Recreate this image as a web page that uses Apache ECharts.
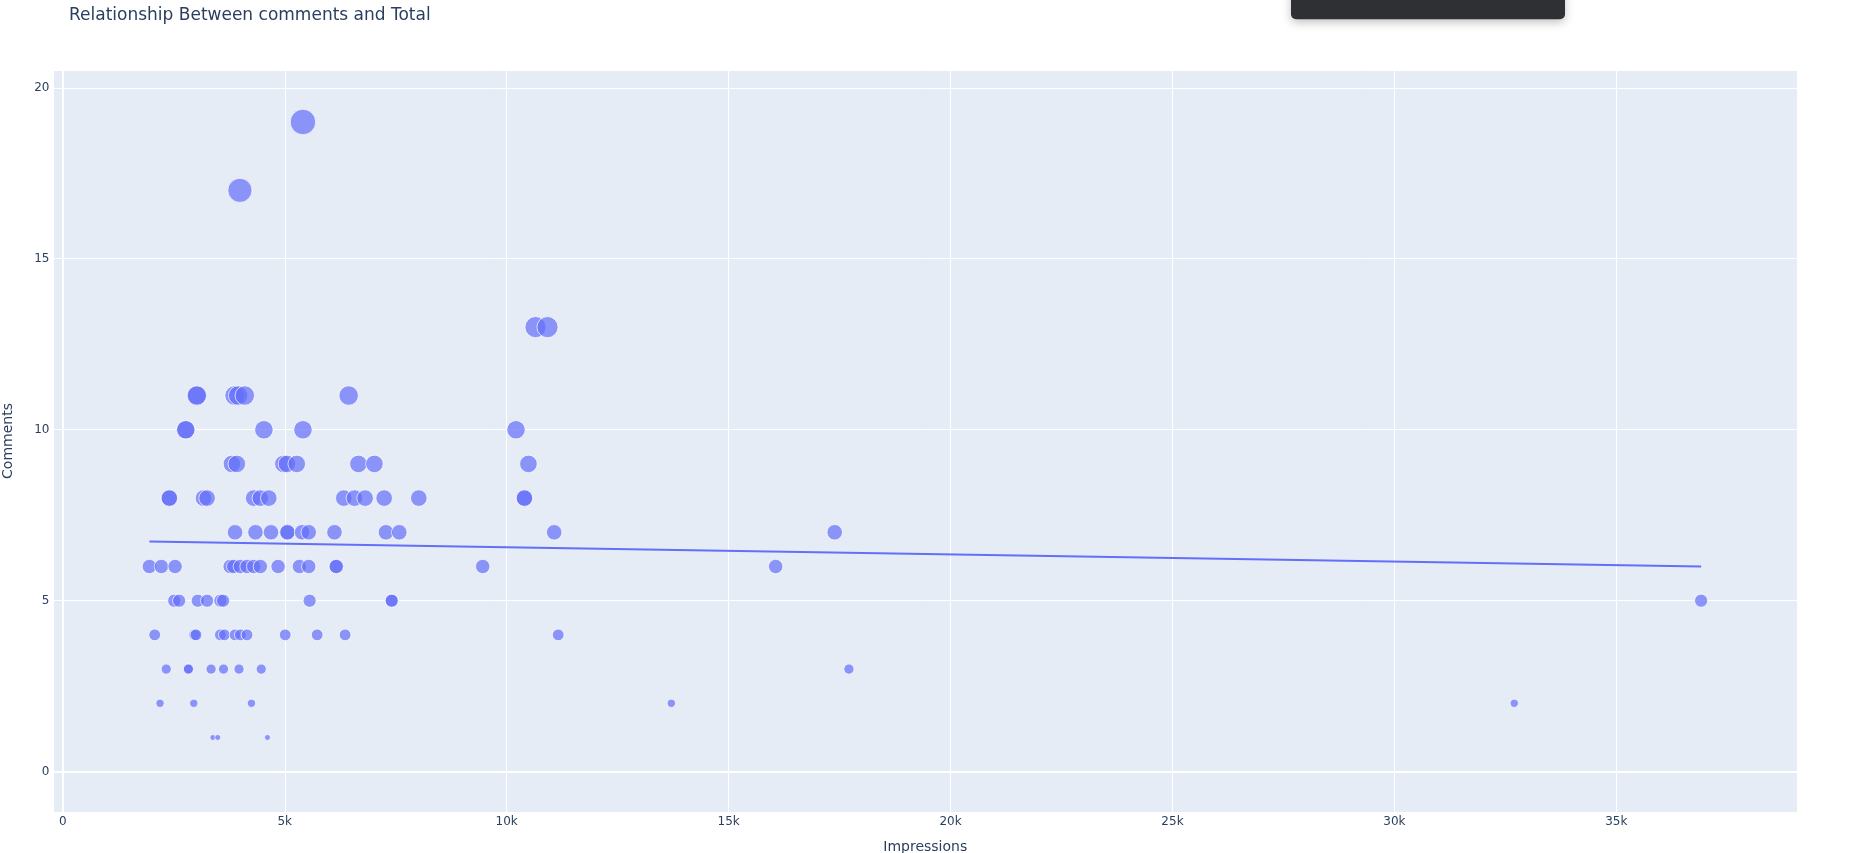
<!DOCTYPE html>
<html>
<head>
<meta charset="utf-8">
<script src="https://cdn.jsdelivr.net/npm/echarts@6/dist/echarts.min.js"></script>
<style>
html,body{margin:0;padding:0;background:#fff;}
#chart{width:1853px;height:853px;}
</style>
</head>
<body>
<div id="chart"></div>
<script>
// Impressions per comment count
const c19 = [5410];
const c17 = [3990];
const c13 = [10650, 10920];
const c11 = [3020, 3020, 3870, 3950, 4100, 6440];
const c10 = [2770, 2770, 4530, 5410, 10210];
const c9 = [3810, 3920, 4970, 5050, 5270, 6660, 7020, 10490];
const c8 = [2400, 2400, 3170, 3250, 4300, 4450, 4640, 6330, 6570, 6810, 7240, 8020, 10400, 10400];
const c7 = [3880, 4340, 4690, 5060, 5060, 5390, 5540, 6120, 7280, 7580, 11070, 17390];
const c6 = [1950, 2220, 2530, 3770, 3850, 4000, 4150, 4300, 4450, 4850, 5330, 5540, 6160, 6160, 9460, 16060];
const c5 = [2510, 2620, 3040, 3250, 3550, 3610, 5560, 7410, 7410, 36910];
const c4 = [2070, 2970, 3000, 3550, 3640, 3880, 4000, 4150, 5010, 5730, 6360, 11160];
const c3 = [2330, 2830, 2830, 3340, 3620, 3970, 4470, 17710];
const c2 = [2190, 2950, 4250, 13710, 32700];
const c1 = [3380, 3490, 4610];

const commentGroups = [
  [19, c19], [17, c17], [13, c13], [11, c11], [10, c10], [9, c9], [8, c8],
  [7, c7], [6, c6], [5, c5], [4, c4], [3, c3], [2, c2], [1, c1]
];

// OLS trendline endpoints
const trendX = [1950, 36910];
const trendY = [6.73, 6.0];

const xTickValues = [0, 5000, 10000, 15000, 20000, 25000, 30000, 35000];
const yTickValues = [0, 5, 10, 15, 20];

const points = [];
commentGroups.forEach(([c, xs]) => xs.forEach(x => points.push([x, c])));
const maxComments = 19;

const textColor = '#2a3f5f';
const font = '"DejaVu Sans", Verdana, sans-serif';

const chart = echarts.init(document.getElementById('chart'), null, {renderer: 'canvas'});
chart.setOption({
  backgroundColor: '#fff',
  animation: false,
  title: {
    text: 'Relationship Between comments and Total',
    left: 69, top: 7, padding: 0,
    textStyle: {fontFamily: font, fontSize: 17, fontWeight: 'normal', color: textColor}
  },
  grid: {
    left: 53.5, right: 56, top: 70, bottom: 41,
    containLabel: false, outerBoundsMode: 'none',
    show: true, backgroundColor: '#E5ECF6', borderWidth: 0
  },
  xAxis: {
    type: 'value', min: -210, max: 39070, splitNumber: 8,
    name: 'Impressions', nameLocation: 'middle', nameGap: 28,
    nameTextStyle: {fontFamily: font, fontSize: 14, color: textColor},
    axisLine: {show: false}, axisTick: {show: false},
    axisLabel: {
      fontFamily: font, fontSize: 12, color: textColor, margin: 4,
      showMinLabel: true, showMaxLabel: true,
      formatter: v => xTickValues.includes(v) ? (v === 0 ? '0' : (v / 1000) + 'k') : ''
    },
    splitLine: {show: true, lineStyle: {color: '#fff', width: 1}}
  },
  yAxis: {
    type: 'value', min: -1.18, max: 20.52, splitNumber: 5,
    name: 'Comments', nameLocation: 'middle', nameGap: 38, nameRotate: 90,
    nameTextStyle: {fontFamily: font, fontSize: 14, color: textColor},
    axisLine: {show: false}, axisTick: {show: false},
    axisLabel: {
      fontFamily: font, fontSize: 12, color: textColor, margin: 4,
      formatter: v => yTickValues.includes(v) ? String(v) : ''
    },
    splitLine: {show: true, lineStyle: {color: '#fff', width: 1}}
  },
  graphic: [{
    type: 'rect', left: 1291, top: -10,
    shape: {width: 274, height: 29.3, r: 5},
    style: {fill: '#2f3034', shadowBlur: 10, shadowColor: 'rgba(0,0,0,0.25)', shadowOffsetY: 3},
    z: 100
  }],
  series: [{
    type: 'scatter',
    data: points,
    symbol: 'circle',
    symbolSize: v => 25.5 * Math.sqrt(v[1] / maxComments),
    itemStyle: {color: '#636efa', opacity: 0.7, borderColor: '#fff', borderWidth: 1},
    markLine: {
      silent: true, symbol: 'none', label: {show: false},
      lineStyle: {color: '#fff', width: 2, type: 'solid'},
      data: [{xAxis: 0}, {yAxis: 0}],
      animation: false
    },
    z: 2
  }, {
    type: 'line',
    data: trendX.map((x, i) => [x, trendY[i]]),
    showSymbol: false, symbol: 'none',
    lineStyle: {color: '#636efa', width: 2},
    z: 3
  }]
});
</script>
</body>
</html>
